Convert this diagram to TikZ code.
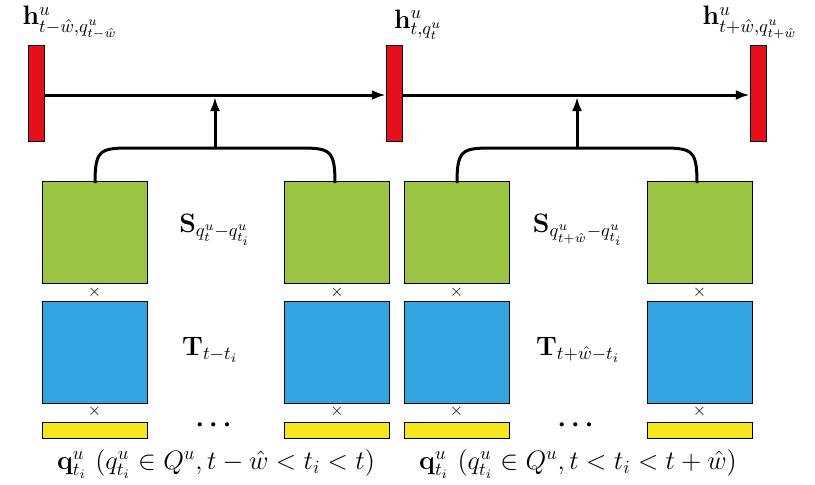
\documentclass[tikz,border=0pt]{standalone}
\usepackage{amsmath,amssymb}
\usetikzlibrary{arrows.meta}
\begin{document}
\begin{tikzpicture}[x=1pt,y=-1pt,
  redbar/.style={draw=black,minimum width=16pt,minimum height=96pt,inner sep=0},
  gbox/.style={draw=black,minimum width=105pt,minimum height=102pt,inner sep=0},
  bbox/.style={draw=black,minimum width=105pt,minimum height=102pt,inner sep=0},
  ybox/.style={draw=black,minimum width=105pt,minimum height=16pt,inner sep=0},
  arr/.style={line width=3pt,-{Latex[length=14pt,width=10pt]}},
  brace/.style={line width=3pt},
  lbl/.style={font=\Large,scale=1.85},
  cross/.style={scale=1.7}]
\useasboundingbox (0,0) rectangle (815,485);
\definecolor{gr}{RGB}{154,196,66}\definecolor{bl}{RGB}{50,165,225}\definecolor{yl}{RGB}{245,230,30}\definecolor{rd}{RGB}{230,15,25}
\tikzset{gbox/.append style={fill=gr},bbox/.append style={fill=bl},ybox/.append style={fill=yl},redbar/.append style={fill=rd}}
\node[redbar] (r1) at (36,93) {};
\node[redbar] (r2) at (394,93) {};
\node[redbar] (r3) at (758,93) {};
\node[lbl,anchor=south] at (70,46) {$\mathbf{h}^u_{t-\hat w,q^u_{t-\hat w}}$};
\node[lbl,anchor=south] at (418,46) {$\mathbf{h}^u_{t,q^u_t}$};
\node[lbl,anchor=south] at (750,46) {$\mathbf{h}^u_{t+\hat w,q^u_{t+\hat w}}$};
\draw[arr] (r1.east|-0,95) -- (r2.west|-0,95);
\draw[arr] (r2.east|-0,95) -- (r3.west|-0,95);
\foreach \n/\x in {1/94.5,2/337,3/456.5,4/699.5}{
  \node[gbox] (g\n) at (\x,232) {};
  \node[cross] at (\x,292) {$\times$};
  \node[bbox] (b\n) at (\x,352) {};
  \node[cross] at (\x,411) {$\times$};
  \node[ybox] (y\n) at (\x,430) {};
}
\coordinate (m1) at (215,97);\coordinate (m2) at (577,97);
\draw[brace] (95,183) .. controls (95,150) and (100,148) .. (130,148) -- (300,148) .. controls (330,148) and (335,150) .. (335,183);
\draw[brace] (457,183) .. controls (457,150) and (462,148) .. (492,148) -- (662,148) .. controls (692,148) and (697,150) .. (697,183);
\draw[arr] (215,148) -- (m1);
\draw[arr] (577,148) -- (m2);
\node[lbl] at (215,230) {$\mathbf{S}_{q^u_t-q^u_{t_i}}$};
\node[lbl] at (578,230) {$\mathbf{S}_{q^u_{t+\hat w}-q^u_{t_i}}$};
\node[lbl] at (210,350) {$\mathbf{T}_{t-t_i}$};
\node[lbl] at (578,350) {$\mathbf{T}_{t+\hat w-t_i}$};
\node[lbl] at (216,425) {$\boldsymbol{\cdots}$};
\node[lbl] at (578,425) {$\boldsymbol{\cdots}$};
\node[lbl] at (216,464) {$\mathbf{q}^u_{t_i}\ (q^u_{t_i}\in Q^u, t-\hat w<t_i<t)$};
\node[lbl] at (578,464) {$\mathbf{q}^u_{t_i}\ (q^u_{t_i}\in Q^u, t<t_i<t+\hat w)$};
\end{tikzpicture}
\end{document}
